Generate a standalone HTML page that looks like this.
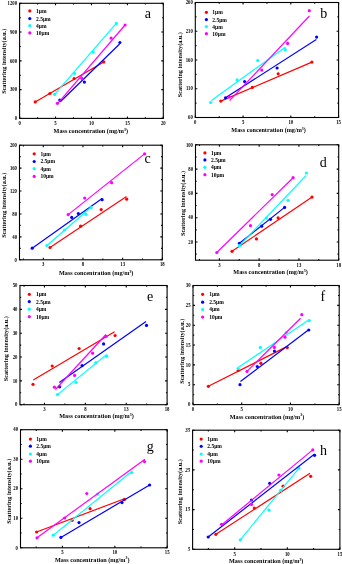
<!DOCTYPE html>
<html><head><meta charset="utf-8"><title>Scattering intensity vs mass concentration</title>
<style>
html,body{margin:0;padding:0;background:#fff;}
body{width:342px;height:564px;overflow:hidden;}
svg{display:block;filter:blur(0.3px);}
svg text{font-family:'Liberation Serif',serif;font-weight:bold;fill:#000;}
</style></head>
<body>
<svg width="342" height="564" viewBox="0 0 342 564">
<rect width="342" height="564" fill="#fff"/>
<g><line x1="35.2" y1="101.9" x2="103.7" y2="61.9" stroke="#ff0000" stroke-width="1.2"/>
<circle cx="35.2" cy="101.9" r="1.6" fill="#ff0000"/>
<circle cx="49.9" cy="93.5" r="1.6" fill="#ff0000"/>
<circle cx="74.1" cy="78.6" r="1.6" fill="#ff0000"/>
<circle cx="103.7" cy="61.9" r="1.6" fill="#ff0000"/>
<line x1="54.6" y1="94.4" x2="116.3" y2="23.4" stroke="#00ffff" stroke-width="1.2"/>
<circle cx="54.6" cy="94.4" r="1.6" fill="#00ffff"/>
<circle cx="74.4" cy="73.3" r="1.6" fill="#00ffff"/>
<circle cx="93.3" cy="51.9" r="1.6" fill="#00ffff"/>
<circle cx="116.3" cy="23.4" r="1.6" fill="#00ffff"/>
<line x1="60.3" y1="101.8" x2="119.6" y2="44" stroke="#0000ff" stroke-width="1.2"/>
<circle cx="59.8" cy="100" r="1.6" fill="#0000ff"/>
<circle cx="84.4" cy="82.1" r="1.6" fill="#0000ff"/>
<circle cx="119.9" cy="42.5" r="1.6" fill="#0000ff"/>
<line x1="57.8" y1="103.3" x2="125.1" y2="25" stroke="#ff00ff" stroke-width="1.2"/>
<circle cx="57.4" cy="103.3" r="1.6" fill="#ff00ff"/>
<circle cx="81.9" cy="78.3" r="1.6" fill="#ff00ff"/>
<circle cx="111.1" cy="38.1" r="1.6" fill="#ff00ff"/>
<circle cx="125.1" cy="25" r="1.6" fill="#ff00ff"/>
<rect x="19.6" y="3.3" width="143.7" height="115.1" fill="none" stroke="#000" stroke-width="1.1"/>
<path d="M19.6 118.4v-2.0M19.6 3.3v2.0M55.53 118.4v-2.0M55.53 3.3v2.0M91.45 118.4v-2.0M91.45 3.3v2.0M127.38 118.4v-2.0M127.38 3.3v2.0M163.3 118.4v-2.0M163.3 3.3v2.0M37.56 118.4v-1.2M37.56 3.3v1.2M73.49 118.4v-1.2M73.49 3.3v1.2M109.41 118.4v-1.2M109.41 3.3v1.2M145.34 118.4v-1.2M145.34 3.3v1.2M19.6 118.4h2.0M163.3 118.4h-2.0M19.6 89.62h2.0M163.3 89.62h-2.0M19.6 60.85h2.0M163.3 60.85h-2.0M19.6 32.07h2.0M163.3 32.07h-2.0M19.6 3.3h2.0M163.3 3.3h-2.0M19.6 104.01h1.2M163.3 104.01h-1.2M19.6 75.24h1.2M163.3 75.24h-1.2M19.6 46.46h1.2M163.3 46.46h-1.2M19.6 17.69h1.2M163.3 17.69h-1.2" stroke="#000" stroke-width="1.1" fill="none"/>
<text transform="translate(19.6 124.5) scale(0.88 1)" font-size="5.4" text-anchor="middle">0</text>
<text transform="translate(55.53 124.5) scale(0.88 1)" font-size="5.4" text-anchor="middle">5</text>
<text transform="translate(91.45 124.5) scale(0.88 1)" font-size="5.4" text-anchor="middle">10</text>
<text transform="translate(127.38 124.5) scale(0.88 1)" font-size="5.4" text-anchor="middle">15</text>
<text transform="translate(163.3 124.5) scale(0.88 1)" font-size="5.4" text-anchor="middle">20</text>
<text transform="translate(17.1 120.1) scale(0.88 1)" font-size="5.4" text-anchor="end">0</text>
<text transform="translate(17.1 91.33) scale(0.88 1)" font-size="5.4" text-anchor="end">300</text>
<text transform="translate(17.1 62.55) scale(0.88 1)" font-size="5.4" text-anchor="end">600</text>
<text transform="translate(17.1 33.77) scale(0.88 1)" font-size="5.4" text-anchor="end">900</text>
<text transform="translate(17.1 5) scale(0.88 1)" font-size="5.4" text-anchor="end">1200</text>
<circle cx="29.8" cy="10.9" r="1.6" fill="#ff0000"/>
<text x="36.1" y="12.8" font-size="5.5">1μm</text>
<circle cx="29.8" cy="18.6" r="1.6" fill="#0000ff"/>
<text x="36.1" y="20.5" font-size="5.5">2.5μm</text>
<circle cx="29.8" cy="25.7" r="1.6" fill="#00ffff"/>
<text x="36.1" y="27.6" font-size="5.5">4μm</text>
<circle cx="29.8" cy="32.9" r="1.6" fill="#ff00ff"/>
<text x="36.1" y="34.8" font-size="5.5">10μm</text>
<text x="147.8" y="17.8" font-size="14.0" style="font-weight:normal" text-anchor="middle">a</text>
<text x="90.8" y="133" font-size="6.2" text-anchor="middle">Mass concentration (mg/m<tspan font-size="3.84" dy="-2.2">3</tspan><tspan dy="2.2">)</tspan></text>
<text transform="translate(5.9 61.25) rotate(-90)" font-size="6.2" text-anchor="middle">Scattering intensity(a.u.)</text></g>
<g><line x1="211.4" y1="100.4" x2="285.5" y2="47" stroke="#00ffff" stroke-width="1.2"/>
<circle cx="210.7" cy="102.5" r="1.6" fill="#00ffff"/>
<circle cx="237.1" cy="79.9" r="1.6" fill="#00ffff"/>
<circle cx="257.7" cy="60.5" r="1.6" fill="#00ffff"/>
<circle cx="285.3" cy="49.7" r="1.6" fill="#00ffff"/>
<line x1="220.8" y1="101.1" x2="311.9" y2="62.1" stroke="#ff0000" stroke-width="1.2"/>
<circle cx="220.8" cy="101.1" r="1.6" fill="#ff0000"/>
<circle cx="252.3" cy="87.4" r="1.6" fill="#ff0000"/>
<circle cx="278.2" cy="73.8" r="1.6" fill="#ff0000"/>
<circle cx="311.9" cy="62.1" r="1.6" fill="#ff0000"/>
<line x1="225.5" y1="97.8" x2="316.3" y2="39.5" stroke="#0000ff" stroke-width="1.2"/>
<circle cx="225.5" cy="97.8" r="1.6" fill="#0000ff"/>
<circle cx="244.6" cy="81.6" r="1.6" fill="#0000ff"/>
<circle cx="277.1" cy="68" r="1.6" fill="#0000ff"/>
<circle cx="316.6" cy="37.1" r="1.6" fill="#0000ff"/>
<line x1="229.6" y1="100.6" x2="309.4" y2="16" stroke="#ff00ff" stroke-width="1.2"/>
<circle cx="229.3" cy="97" r="1.6" fill="#ff00ff"/>
<circle cx="261.8" cy="70.1" r="1.6" fill="#ff00ff"/>
<circle cx="287.6" cy="43.4" r="1.6" fill="#ff00ff"/>
<circle cx="309.3" cy="10.7" r="1.6" fill="#ff00ff"/>
<rect x="195.3" y="2.5" width="143.3" height="115" fill="none" stroke="#000" stroke-width="1.1"/>
<path d="M195.3 117.5v-2.0M195.3 2.5v2.0M243.07 117.5v-2.0M243.07 2.5v2.0M290.83 117.5v-2.0M290.83 2.5v2.0M338.6 117.5v-2.0M338.6 2.5v2.0M219.18 117.5v-1.2M219.18 2.5v1.2M266.95 117.5v-1.2M266.95 2.5v1.2M314.72 117.5v-1.2M314.72 2.5v1.2M195.3 117.5h2.0M338.6 117.5h-2.0M195.3 88.75h2.0M338.6 88.75h-2.0M195.3 60h2.0M338.6 60h-2.0M195.3 31.25h2.0M338.6 31.25h-2.0M195.3 2.5h2.0M338.6 2.5h-2.0M195.3 103.12h1.2M338.6 103.12h-1.2M195.3 74.38h1.2M338.6 74.38h-1.2M195.3 45.62h1.2M338.6 45.62h-1.2M195.3 16.88h1.2M338.6 16.88h-1.2" stroke="#000" stroke-width="1.1" fill="none"/>
<text transform="translate(195.3 124.1) scale(0.88 1)" font-size="5.4" text-anchor="middle">0</text>
<text transform="translate(243.07 124.1) scale(0.88 1)" font-size="5.4" text-anchor="middle">5</text>
<text transform="translate(290.83 124.1) scale(0.88 1)" font-size="5.4" text-anchor="middle">10</text>
<text transform="translate(338.6 124.1) scale(0.88 1)" font-size="5.4" text-anchor="middle">15</text>
<text transform="translate(192.8 119.2) scale(0.88 1)" font-size="5.4" text-anchor="end">60</text>
<text transform="translate(192.8 90.45) scale(0.88 1)" font-size="5.4" text-anchor="end">110</text>
<text transform="translate(192.8 61.7) scale(0.88 1)" font-size="5.4" text-anchor="end">160</text>
<text transform="translate(192.8 32.95) scale(0.88 1)" font-size="5.4" text-anchor="end">210</text>
<text transform="translate(192.8 4.2) scale(0.88 1)" font-size="5.4" text-anchor="end">260</text>
<circle cx="206.4" cy="12.3" r="1.6" fill="#ff0000"/>
<text x="212.3" y="14.2" font-size="5.5">1μm</text>
<circle cx="206.4" cy="19.6" r="1.6" fill="#0000ff"/>
<text x="212.3" y="21.5" font-size="5.5">2.5μm</text>
<circle cx="206.4" cy="26.6" r="1.6" fill="#00ffff"/>
<text x="212.3" y="28.5" font-size="5.5">4μm</text>
<circle cx="206.4" cy="33.7" r="1.6" fill="#ff00ff"/>
<text x="212.3" y="35.6" font-size="5.5">10μm</text>
<text x="323.7" y="17.5" font-size="14.0" style="font-weight:normal" text-anchor="middle">b</text>
<text x="268.6" y="132.3" font-size="6.2" text-anchor="middle">Mass concentration (mg/m<tspan font-size="3.84" dy="-2.2">3</tspan><tspan dy="2.2">)</tspan></text>
<text transform="translate(182 64.65) rotate(-90)" font-size="6.2" text-anchor="middle">Scattering intensity(a.u.)</text></g>
<g><line x1="32.2" y1="248.2" x2="102.1" y2="198.6" stroke="#0000ff" stroke-width="1.2"/>
<circle cx="32.2" cy="248.2" r="1.6" fill="#0000ff"/>
<circle cx="71.7" cy="217.4" r="1.6" fill="#0000ff"/>
<circle cx="78.3" cy="213.5" r="1.6" fill="#0000ff"/>
<circle cx="102.1" cy="199.7" r="1.6" fill="#0000ff"/>
<line x1="46.9" y1="245.5" x2="91.6" y2="206.8" stroke="#00ffff" stroke-width="1.2"/>
<circle cx="46.9" cy="245.5" r="1.6" fill="#00ffff"/>
<circle cx="64.5" cy="230" r="1.6" fill="#00ffff"/>
<circle cx="85.9" cy="214.3" r="1.6" fill="#00ffff"/>
<circle cx="91.2" cy="207.5" r="1.6" fill="#00ffff"/>
<line x1="50" y1="247.5" x2="126.5" y2="196.6" stroke="#ff0000" stroke-width="1.2"/>
<circle cx="50" cy="247.5" r="1.6" fill="#ff0000"/>
<circle cx="80.6" cy="226.2" r="1.6" fill="#ff0000"/>
<circle cx="101.2" cy="209.6" r="1.6" fill="#ff0000"/>
<circle cx="126.7" cy="199.2" r="1.6" fill="#ff0000"/>
<line x1="68.2" y1="214.6" x2="144.6" y2="153.9" stroke="#ff00ff" stroke-width="1.2"/>
<circle cx="68.2" cy="214.6" r="1.6" fill="#ff00ff"/>
<circle cx="84.7" cy="198.1" r="1.6" fill="#ff00ff"/>
<circle cx="111.6" cy="182.7" r="1.6" fill="#ff00ff"/>
<circle cx="144.6" cy="153.9" r="1.6" fill="#ff00ff"/>
<rect x="19.5" y="145.2" width="142.8" height="114.6" fill="none" stroke="#000" stroke-width="1.1"/>
<path d="M43.3 259.8v-2.0M43.3 145.2v2.0M82.97 259.8v-2.0M82.97 145.2v2.0M122.63 259.8v-2.0M122.63 145.2v2.0M162.3 259.8v-2.0M162.3 145.2v2.0M23.47 259.8v-1.2M23.47 145.2v1.2M63.13 259.8v-1.2M63.13 145.2v1.2M102.8 259.8v-1.2M102.8 145.2v1.2M142.47 259.8v-1.2M142.47 145.2v1.2M19.5 259.8h2.0M162.3 259.8h-2.0M19.5 236.88h2.0M162.3 236.88h-2.0M19.5 213.96h2.0M162.3 213.96h-2.0M19.5 191.04h2.0M162.3 191.04h-2.0M19.5 168.12h2.0M162.3 168.12h-2.0M19.5 145.2h2.0M162.3 145.2h-2.0M19.5 248.34h1.2M162.3 248.34h-1.2M19.5 225.42h1.2M162.3 225.42h-1.2M19.5 202.5h1.2M162.3 202.5h-1.2M19.5 179.58h1.2M162.3 179.58h-1.2M19.5 156.66h1.2M162.3 156.66h-1.2" stroke="#000" stroke-width="1.1" fill="none"/>
<text transform="translate(43.3 266.4) scale(0.88 1)" font-size="5.4" text-anchor="middle">3</text>
<text transform="translate(82.97 266.4) scale(0.88 1)" font-size="5.4" text-anchor="middle">8</text>
<text transform="translate(122.63 266.4) scale(0.88 1)" font-size="5.4" text-anchor="middle">13</text>
<text transform="translate(162.3 266.4) scale(0.88 1)" font-size="5.4" text-anchor="middle">18</text>
<text transform="translate(17 261.5) scale(0.88 1)" font-size="5.4" text-anchor="end">0</text>
<text transform="translate(17 238.58) scale(0.88 1)" font-size="5.4" text-anchor="end">40</text>
<text transform="translate(17 215.66) scale(0.88 1)" font-size="5.4" text-anchor="end">80</text>
<text transform="translate(17 192.74) scale(0.88 1)" font-size="5.4" text-anchor="end">120</text>
<text transform="translate(17 169.82) scale(0.88 1)" font-size="5.4" text-anchor="end">160</text>
<text transform="translate(17 146.9) scale(0.88 1)" font-size="5.4" text-anchor="end">200</text>
<circle cx="34.2" cy="153.8" r="1.6" fill="#ff0000"/>
<text x="40.4" y="155.7" font-size="5.5">1μm</text>
<circle cx="34.2" cy="161.5" r="1.6" fill="#0000ff"/>
<text x="40.4" y="163.4" font-size="5.5">2.5μm</text>
<circle cx="34.2" cy="168.7" r="1.6" fill="#00ffff"/>
<text x="40.4" y="170.6" font-size="5.5">4μm</text>
<circle cx="34.2" cy="176.4" r="1.6" fill="#ff00ff"/>
<text x="40.4" y="178.3" font-size="5.5">10μm</text>
<text x="147.7" y="162.8" font-size="14.0" style="font-weight:normal" text-anchor="middle">c</text>
<text x="96.2" y="275.1" font-size="6.2" text-anchor="middle">Mass concentration (mg/m<tspan font-size="3.84" dy="-2.2">3</tspan><tspan dy="2.2">)</tspan></text>
<text transform="translate(6.4 205.25) rotate(-90)" font-size="6.2" text-anchor="middle">Scattering intensity(a.u.)</text></g>
<g><line x1="216.8" y1="252.5" x2="293.1" y2="177.7" stroke="#ff00ff" stroke-width="1.2"/>
<circle cx="216.8" cy="252.5" r="1.6" fill="#ff00ff"/>
<circle cx="250.5" cy="225.7" r="1.6" fill="#ff00ff"/>
<circle cx="272.2" cy="194.7" r="1.6" fill="#ff00ff"/>
<circle cx="293.1" cy="177.7" r="1.6" fill="#ff00ff"/>
<line x1="232" y1="251.3" x2="311.8" y2="197.3" stroke="#ff0000" stroke-width="1.2"/>
<circle cx="232" cy="251.3" r="1.6" fill="#ff0000"/>
<circle cx="256.5" cy="238.9" r="1.6" fill="#ff0000"/>
<circle cx="278.1" cy="217.9" r="1.6" fill="#ff0000"/>
<circle cx="312" cy="197.1" r="1.6" fill="#ff0000"/>
<line x1="239.4" y1="243.3" x2="284.6" y2="207.4" stroke="#0000ff" stroke-width="1.2"/>
<circle cx="239.4" cy="243.3" r="1.6" fill="#0000ff"/>
<circle cx="261.7" cy="226.2" r="1.6" fill="#0000ff"/>
<circle cx="270.5" cy="219.3" r="1.6" fill="#0000ff"/>
<circle cx="284.6" cy="207.4" r="1.6" fill="#0000ff"/>
<line x1="239.4" y1="245.7" x2="306.2" y2="175.5" stroke="#00ffff" stroke-width="1.2"/>
<circle cx="239.4" cy="245.7" r="1.6" fill="#00ffff"/>
<circle cx="266.4" cy="218.1" r="1.6" fill="#00ffff"/>
<circle cx="288.1" cy="200.3" r="1.6" fill="#00ffff"/>
<circle cx="306.4" cy="173" r="1.6" fill="#00ffff"/>
<rect x="195.5" y="144.8" width="143.2" height="115.4" fill="none" stroke="#000" stroke-width="1.1"/>
<path d="M219.37 260.2v-2.0M219.37 144.8v2.0M259.14 260.2v-2.0M259.14 144.8v2.0M298.92 260.2v-2.0M298.92 144.8v2.0M338.7 260.2v-2.0M338.7 144.8v2.0M199.48 260.2v-1.2M199.48 144.8v1.2M239.26 260.2v-1.2M239.26 144.8v1.2M279.03 260.2v-1.2M279.03 144.8v1.2M318.81 260.2v-1.2M318.81 144.8v1.2M195.5 241.98h2.0M338.7 241.98h-2.0M195.5 217.68h2.0M338.7 217.68h-2.0M195.5 193.39h2.0M338.7 193.39h-2.0M195.5 169.09h2.0M338.7 169.09h-2.0M195.5 144.8h2.0M338.7 144.8h-2.0M195.5 254.13h1.2M338.7 254.13h-1.2M195.5 229.83h1.2M338.7 229.83h-1.2M195.5 205.54h1.2M338.7 205.54h-1.2M195.5 181.24h1.2M338.7 181.24h-1.2M195.5 156.95h1.2M338.7 156.95h-1.2" stroke="#000" stroke-width="1.1" fill="none"/>
<text transform="translate(219.37 266.8) scale(0.88 1)" font-size="5.4" text-anchor="middle">3</text>
<text transform="translate(259.14 266.8) scale(0.88 1)" font-size="5.4" text-anchor="middle">8</text>
<text transform="translate(298.92 266.8) scale(0.88 1)" font-size="5.4" text-anchor="middle">13</text>
<text transform="translate(338.7 266.8) scale(0.88 1)" font-size="5.4" text-anchor="middle">18</text>
<text transform="translate(193 243.68) scale(0.88 1)" font-size="5.4" text-anchor="end">20</text>
<text transform="translate(193 219.38) scale(0.88 1)" font-size="5.4" text-anchor="end">40</text>
<text transform="translate(193 195.09) scale(0.88 1)" font-size="5.4" text-anchor="end">60</text>
<text transform="translate(193 170.79) scale(0.88 1)" font-size="5.4" text-anchor="end">80</text>
<text transform="translate(193 146.5) scale(0.88 1)" font-size="5.4" text-anchor="end">100</text>
<circle cx="204.9" cy="152.9" r="1.6" fill="#ff0000"/>
<text x="211" y="154.8" font-size="5.5">1μm</text>
<circle cx="204.9" cy="159.9" r="1.6" fill="#0000ff"/>
<text x="211" y="161.8" font-size="5.5">2.5μm</text>
<circle cx="204.9" cy="167.3" r="1.6" fill="#00ffff"/>
<text x="211" y="169.2" font-size="5.5">4μm</text>
<circle cx="204.9" cy="174.7" r="1.6" fill="#ff00ff"/>
<text x="211" y="176.6" font-size="5.5">10μm</text>
<text x="323.2" y="167.4" font-size="14.0" style="font-weight:normal" text-anchor="middle">d</text>
<text x="270.55" y="274" font-size="6.2" text-anchor="middle">Mass concentration (mg/m<tspan font-size="3.84" dy="-2.2">3</tspan><tspan dy="2.2">)</tspan></text>
<text transform="translate(185.2 203.5) rotate(-90)" font-size="6.2" text-anchor="middle">Scattering intensity(a.u.)</text></g>
<g><line x1="33.3" y1="380" x2="114.6" y2="331.7" stroke="#ff0000" stroke-width="1.2"/>
<circle cx="33" cy="384.3" r="1.6" fill="#ff0000"/>
<circle cx="52.2" cy="366" r="1.6" fill="#ff0000"/>
<circle cx="79.1" cy="348.5" r="1.6" fill="#ff0000"/>
<circle cx="115.1" cy="335.5" r="1.6" fill="#ff0000"/>
<line x1="59.3" y1="382.5" x2="146" y2="321.5" stroke="#0000ff" stroke-width="1.2"/>
<circle cx="59.6" cy="386.8" r="1.6" fill="#0000ff"/>
<circle cx="82.1" cy="365.6" r="1.6" fill="#0000ff"/>
<circle cx="103.6" cy="343.9" r="1.6" fill="#0000ff"/>
<circle cx="146.5" cy="325.4" r="1.6" fill="#0000ff"/>
<line x1="57.5" y1="394.6" x2="106.7" y2="354.5" stroke="#00ffff" stroke-width="1.2"/>
<circle cx="57.5" cy="394.6" r="1.6" fill="#00ffff"/>
<circle cx="76" cy="382.3" r="1.6" fill="#00ffff"/>
<circle cx="95.8" cy="362.7" r="1.6" fill="#00ffff"/>
<circle cx="106.7" cy="356.3" r="1.6" fill="#00ffff"/>
<line x1="55.4" y1="389.5" x2="106" y2="334.5" stroke="#ff00ff" stroke-width="1.2"/>
<circle cx="54.4" cy="387.2" r="1.6" fill="#ff00ff"/>
<circle cx="74.6" cy="375.4" r="1.6" fill="#ff00ff"/>
<circle cx="92.6" cy="353.2" r="1.6" fill="#ff00ff"/>
<circle cx="106" cy="336.4" r="1.6" fill="#ff00ff"/>
<rect x="19.95" y="285.5" width="147.15" height="119.2" fill="none" stroke="#000" stroke-width="1.1"/>
<path d="M44.48 404.7v-2.0M44.48 285.5v2.0M85.35 404.7v-2.0M85.35 285.5v2.0M126.23 404.7v-2.0M126.23 285.5v2.0M167.1 404.7v-2.0M167.1 285.5v2.0M24.04 404.7v-1.2M24.04 285.5v1.2M64.91 404.7v-1.2M64.91 285.5v1.2M105.79 404.7v-1.2M105.79 285.5v1.2M146.66 404.7v-1.2M146.66 285.5v1.2M19.95 404.7h2.0M167.1 404.7h-2.0M19.95 380.86h2.0M167.1 380.86h-2.0M19.95 357.02h2.0M167.1 357.02h-2.0M19.95 333.18h2.0M167.1 333.18h-2.0M19.95 309.34h2.0M167.1 309.34h-2.0M19.95 285.5h2.0M167.1 285.5h-2.0M19.95 392.78h1.2M167.1 392.78h-1.2M19.95 368.94h1.2M167.1 368.94h-1.2M19.95 345.1h1.2M167.1 345.1h-1.2M19.95 321.26h1.2M167.1 321.26h-1.2M19.95 297.42h1.2M167.1 297.42h-1.2" stroke="#000" stroke-width="1.1" fill="none"/>
<text transform="translate(44.48 411.3) scale(0.88 1)" font-size="5.4" text-anchor="middle">3</text>
<text transform="translate(85.35 411.3) scale(0.88 1)" font-size="5.4" text-anchor="middle">8</text>
<text transform="translate(126.23 411.3) scale(0.88 1)" font-size="5.4" text-anchor="middle">13</text>
<text transform="translate(167.1 411.3) scale(0.88 1)" font-size="5.4" text-anchor="middle">18</text>
<text transform="translate(17.45 406.4) scale(0.88 1)" font-size="5.4" text-anchor="end">0</text>
<text transform="translate(17.45 382.56) scale(0.88 1)" font-size="5.4" text-anchor="end">10</text>
<text transform="translate(17.45 358.72) scale(0.88 1)" font-size="5.4" text-anchor="end">20</text>
<text transform="translate(17.45 334.88) scale(0.88 1)" font-size="5.4" text-anchor="end">30</text>
<text transform="translate(17.45 311.04) scale(0.88 1)" font-size="5.4" text-anchor="end">40</text>
<text transform="translate(17.45 287.2) scale(0.88 1)" font-size="5.4" text-anchor="end">50</text>
<circle cx="29.3" cy="294.3" r="1.6" fill="#ff0000"/>
<text x="36" y="296.2" font-size="5.5">1μm</text>
<circle cx="29.3" cy="301.6" r="1.6" fill="#0000ff"/>
<text x="36" y="303.5" font-size="5.5">2.5μm</text>
<circle cx="29.3" cy="309.2" r="1.6" fill="#00ffff"/>
<text x="36" y="311.1" font-size="5.5">4μm</text>
<circle cx="29.3" cy="316.7" r="1.6" fill="#ff00ff"/>
<text x="36" y="318.6" font-size="5.5">10μm</text>
<text x="150" y="300.8" font-size="14.0" style="font-weight:normal" text-anchor="middle">e</text>
<text x="96.5" y="418" font-size="6.2" text-anchor="middle">Mass concentration (mg/m<tspan font-size="3.84" dy="-2.2">3</tspan><tspan dy="2.2">)</tspan></text>
<text transform="translate(7.8 348.65) rotate(-90)" font-size="6.2" text-anchor="middle">Scattering intensity(a.u.)</text></g>
<g><line x1="208.4" y1="386.3" x2="287.3" y2="346.4" stroke="#ff0000" stroke-width="1.2"/>
<circle cx="208.4" cy="386.3" r="1.6" fill="#ff0000"/>
<circle cx="238.2" cy="370.5" r="1.6" fill="#ff0000"/>
<circle cx="260.9" cy="363.3" r="1.6" fill="#ff0000"/>
<circle cx="287.3" cy="347.6" r="1.6" fill="#ff0000"/>
<line x1="240.4" y1="381.6" x2="309" y2="329.4" stroke="#0000ff" stroke-width="1.2"/>
<circle cx="240" cy="384.7" r="1.6" fill="#0000ff"/>
<circle cx="257.3" cy="366.5" r="1.6" fill="#0000ff"/>
<circle cx="274.4" cy="351.1" r="1.6" fill="#0000ff"/>
<circle cx="308.8" cy="330" r="1.6" fill="#0000ff"/>
<line x1="238.2" y1="367.5" x2="309.5" y2="319.4" stroke="#00ffff" stroke-width="1.2"/>
<circle cx="238.2" cy="368.5" r="1.6" fill="#00ffff"/>
<circle cx="260.4" cy="347.4" r="1.6" fill="#00ffff"/>
<circle cx="286.4" cy="332.6" r="1.6" fill="#00ffff"/>
<circle cx="309.2" cy="320.5" r="1.6" fill="#00ffff"/>
<line x1="247" y1="371.4" x2="300.6" y2="318.3" stroke="#ff00ff" stroke-width="1.2"/>
<circle cx="247" cy="371.4" r="1.6" fill="#ff00ff"/>
<circle cx="274.4" cy="347.4" r="1.6" fill="#ff00ff"/>
<circle cx="285" cy="337.2" r="1.6" fill="#ff00ff"/>
<circle cx="301.8" cy="314.7" r="1.6" fill="#ff00ff"/>
<rect x="193" y="285.5" width="146.2" height="119.1" fill="none" stroke="#000" stroke-width="1.1"/>
<path d="M193 404.6v-2.0M193 285.5v2.0M241.73 404.6v-2.0M241.73 285.5v2.0M290.47 404.6v-2.0M290.47 285.5v2.0M339.2 404.6v-2.0M339.2 285.5v2.0M217.37 404.6v-1.2M217.37 285.5v1.2M266.1 404.6v-1.2M266.1 285.5v1.2M314.83 404.6v-1.2M314.83 285.5v1.2M193 404.6h2.0M339.2 404.6h-2.0M193 384.75h2.0M339.2 384.75h-2.0M193 364.9h2.0M339.2 364.9h-2.0M193 345.05h2.0M339.2 345.05h-2.0M193 325.2h2.0M339.2 325.2h-2.0M193 305.35h2.0M339.2 305.35h-2.0M193 285.5h2.0M339.2 285.5h-2.0M193 394.68h1.2M339.2 394.68h-1.2M193 374.82h1.2M339.2 374.82h-1.2M193 354.98h1.2M339.2 354.98h-1.2M193 335.12h1.2M339.2 335.12h-1.2M193 315.27h1.2M339.2 315.27h-1.2M193 295.43h1.2M339.2 295.43h-1.2" stroke="#000" stroke-width="1.1" fill="none"/>
<text transform="translate(193 411.2) scale(0.88 1)" font-size="5.4" text-anchor="middle">0</text>
<text transform="translate(241.73 411.2) scale(0.88 1)" font-size="5.4" text-anchor="middle">5</text>
<text transform="translate(290.47 411.2) scale(0.88 1)" font-size="5.4" text-anchor="middle">10</text>
<text transform="translate(339.2 411.2) scale(0.88 1)" font-size="5.4" text-anchor="middle">15</text>
<text transform="translate(190.5 406.3) scale(0.88 1)" font-size="5.4" text-anchor="end">0</text>
<text transform="translate(190.5 386.45) scale(0.88 1)" font-size="5.4" text-anchor="end">5</text>
<text transform="translate(190.5 366.6) scale(0.88 1)" font-size="5.4" text-anchor="end">10</text>
<text transform="translate(190.5 346.75) scale(0.88 1)" font-size="5.4" text-anchor="end">15</text>
<text transform="translate(190.5 326.9) scale(0.88 1)" font-size="5.4" text-anchor="end">20</text>
<text transform="translate(190.5 307.05) scale(0.88 1)" font-size="5.4" text-anchor="end">25</text>
<text transform="translate(190.5 287.2) scale(0.88 1)" font-size="5.4" text-anchor="end">30</text>
<circle cx="202.6" cy="294.3" r="1.6" fill="#ff0000"/>
<text x="209.2" y="296.2" font-size="5.5">1μm</text>
<circle cx="202.6" cy="302.2" r="1.6" fill="#0000ff"/>
<text x="209.2" y="304.1" font-size="5.5">2.5μm</text>
<circle cx="202.6" cy="309.5" r="1.6" fill="#00ffff"/>
<text x="209.2" y="311.4" font-size="5.5">4μm</text>
<circle cx="202.6" cy="317.1" r="1.6" fill="#ff00ff"/>
<text x="209.2" y="319" font-size="5.5">10μm</text>
<text x="322.8" y="301.2" font-size="14.0" style="font-weight:normal" text-anchor="middle">f</text>
<text x="267" y="418.6" font-size="6.2" text-anchor="middle">Mass concentration (mg/m<tspan font-size="3.84" dy="-2.2">3</tspan><tspan dy="2.2">)</tspan></text>
<text transform="translate(183.6 351.25) rotate(-90)" font-size="6.2" text-anchor="middle">Scattering intensity(a.u.)</text></g>
<g><line x1="36.6" y1="532" x2="124.5" y2="498.7" stroke="#ff0000" stroke-width="1.2"/>
<circle cx="36.6" cy="532" r="1.6" fill="#ff0000"/>
<circle cx="72.2" cy="520.3" r="1.6" fill="#ff0000"/>
<circle cx="90.1" cy="508.7" r="1.6" fill="#ff0000"/>
<circle cx="124.5" cy="499.4" r="1.6" fill="#ff0000"/>
<line x1="60.9" y1="537.4" x2="149.6" y2="485" stroke="#0000ff" stroke-width="1.2"/>
<circle cx="60.9" cy="537.4" r="1.6" fill="#0000ff"/>
<circle cx="79" cy="522.6" r="1.6" fill="#0000ff"/>
<circle cx="122" cy="502.6" r="1.6" fill="#0000ff"/>
<circle cx="149.6" cy="485" r="1.6" fill="#0000ff"/>
<line x1="53.3" y1="535.2" x2="131.6" y2="471.5" stroke="#00ffff" stroke-width="1.2"/>
<circle cx="53.3" cy="535.2" r="1.6" fill="#00ffff"/>
<circle cx="97.5" cy="494.2" r="1.6" fill="#00ffff"/>
<circle cx="131.6" cy="472.6" r="1.6" fill="#00ffff"/>
<line x1="37" y1="537.8" x2="145" y2="459.2" stroke="#ff00ff" stroke-width="1.2"/>
<circle cx="37" cy="537.8" r="1.6" fill="#ff00ff"/>
<circle cx="64.6" cy="518" r="1.6" fill="#ff00ff"/>
<circle cx="86.8" cy="493.5" r="1.6" fill="#ff00ff"/>
<circle cx="144.5" cy="461.6" r="1.6" fill="#ff00ff"/>
<rect x="20.5" y="429.7" width="146.7" height="118.1" fill="none" stroke="#000" stroke-width="1.1"/>
<path d="M62.41 547.8v-2.0M62.41 429.7v2.0M114.81 547.8v-2.0M114.81 429.7v2.0M167.2 547.8v-2.0M167.2 429.7v2.0M36.22 547.8v-1.2M36.22 429.7v1.2M88.61 547.8v-1.2M88.61 429.7v1.2M141 547.8v-1.2M141 429.7v1.2M20.5 547.8h2.0M167.2 547.8h-2.0M20.5 518.27h2.0M167.2 518.27h-2.0M20.5 488.75h2.0M167.2 488.75h-2.0M20.5 459.22h2.0M167.2 459.22h-2.0M20.5 429.7h2.0M167.2 429.7h-2.0M20.5 533.04h1.2M167.2 533.04h-1.2M20.5 503.51h1.2M167.2 503.51h-1.2M20.5 473.99h1.2M167.2 473.99h-1.2M20.5 444.46h1.2M167.2 444.46h-1.2" stroke="#000" stroke-width="1.1" fill="none"/>
<text transform="translate(62.41 554.4) scale(0.88 1)" font-size="5.4" text-anchor="middle">5</text>
<text transform="translate(114.81 554.4) scale(0.88 1)" font-size="5.4" text-anchor="middle">10</text>
<text transform="translate(167.2 554.4) scale(0.88 1)" font-size="5.4" text-anchor="middle">15</text>
<text transform="translate(18 549.5) scale(0.88 1)" font-size="5.4" text-anchor="end">0</text>
<text transform="translate(18 519.98) scale(0.88 1)" font-size="5.4" text-anchor="end">10</text>
<text transform="translate(18 490.45) scale(0.88 1)" font-size="5.4" text-anchor="end">20</text>
<text transform="translate(18 460.92) scale(0.88 1)" font-size="5.4" text-anchor="end">30</text>
<text transform="translate(18 431.4) scale(0.88 1)" font-size="5.4" text-anchor="end">40</text>
<circle cx="30.4" cy="439.1" r="1.6" fill="#ff0000"/>
<text x="36.3" y="441" font-size="5.5">1μm</text>
<circle cx="30.4" cy="446.2" r="1.6" fill="#0000ff"/>
<text x="36.3" y="448.1" font-size="5.5">2.5μm</text>
<circle cx="30.4" cy="454.1" r="1.6" fill="#00ffff"/>
<text x="36.3" y="456" font-size="5.5">4μm</text>
<circle cx="30.4" cy="461.2" r="1.6" fill="#ff00ff"/>
<text x="36.3" y="463.1" font-size="5.5">10μm</text>
<text x="150.2" y="451" font-size="14.0" style="font-weight:normal" text-anchor="middle">g</text>
<text x="92.25" y="561.5" font-size="6.2" text-anchor="middle">Mass concentration (mg/m<tspan font-size="3.84" dy="-2.2">3</tspan><tspan dy="2.2">)</tspan></text>
<text transform="translate(10.6 491.25) rotate(-90)" font-size="6.2" text-anchor="middle">Scattering intensity(a.u.)</text></g>
<g><line x1="215.9" y1="534.3" x2="310" y2="473.3" stroke="#ff0000" stroke-width="1.2"/>
<circle cx="215.9" cy="534.3" r="1.6" fill="#ff0000"/>
<circle cx="254.3" cy="508.1" r="1.6" fill="#ff0000"/>
<circle cx="283.1" cy="486.2" r="1.6" fill="#ff0000"/>
<circle cx="310.7" cy="476.3" r="1.6" fill="#ff0000"/>
<line x1="240.3" y1="539.8" x2="299" y2="468.1" stroke="#00ffff" stroke-width="1.2"/>
<circle cx="240.3" cy="539.8" r="1.6" fill="#00ffff"/>
<circle cx="269" cy="510.2" r="1.6" fill="#00ffff"/>
<circle cx="280.7" cy="490.4" r="1.6" fill="#00ffff"/>
<circle cx="299" cy="468.1" r="1.6" fill="#00ffff"/>
<line x1="208.2" y1="537" x2="314.6" y2="454" stroke="#0000ff" stroke-width="1.2"/>
<circle cx="208.2" cy="537" r="1.6" fill="#0000ff"/>
<circle cx="251.5" cy="500" r="1.6" fill="#0000ff"/>
<circle cx="269.7" cy="483.3" r="1.6" fill="#0000ff"/>
<circle cx="314.6" cy="455.3" r="1.6" fill="#0000ff"/>
<line x1="221.5" y1="525" x2="312.8" y2="449.9" stroke="#ff00ff" stroke-width="1.2"/>
<circle cx="221.5" cy="524.3" r="1.6" fill="#ff00ff"/>
<circle cx="251.5" cy="504.4" r="1.6" fill="#ff00ff"/>
<circle cx="278.9" cy="475" r="1.6" fill="#ff00ff"/>
<circle cx="312.8" cy="449.9" r="1.6" fill="#ff00ff"/>
<rect x="192.6" y="430.2" width="147.3" height="119.1" fill="none" stroke="#000" stroke-width="1.1"/>
<path d="M234.69 549.3v-2.0M234.69 430.2v2.0M287.29 549.3v-2.0M287.29 430.2v2.0M339.9 549.3v-2.0M339.9 430.2v2.0M208.38 549.3v-1.2M208.38 430.2v1.2M260.99 549.3v-1.2M260.99 430.2v1.2M313.6 549.3v-1.2M313.6 430.2v1.2M192.6 549.3h2.0M339.9 549.3h-2.0M192.6 509.6h2.0M339.9 509.6h-2.0M192.6 469.9h2.0M339.9 469.9h-2.0M192.6 430.2h2.0M339.9 430.2h-2.0M192.6 529.45h1.2M339.9 529.45h-1.2M192.6 489.75h1.2M339.9 489.75h-1.2M192.6 450.05h1.2M339.9 450.05h-1.2" stroke="#000" stroke-width="1.1" fill="none"/>
<text transform="translate(234.69 555.9) scale(0.88 1)" font-size="5.4" text-anchor="middle">5</text>
<text transform="translate(287.29 555.9) scale(0.88 1)" font-size="5.4" text-anchor="middle">10</text>
<text transform="translate(339.9 555.9) scale(0.88 1)" font-size="5.4" text-anchor="middle">15</text>
<text transform="translate(190.1 551) scale(0.88 1)" font-size="5.6" text-anchor="end" style="font-style:italic">5</text>
<text transform="translate(190.1 511.3) scale(0.88 1)" font-size="5.6" text-anchor="end" style="font-style:italic">15</text>
<text transform="translate(190.1 471.6) scale(0.88 1)" font-size="5.6" text-anchor="end" style="font-style:italic">25</text>
<text transform="translate(190.1 431.9) scale(0.88 1)" font-size="5.6" text-anchor="end" style="font-style:italic">35</text>
<circle cx="201.2" cy="439.1" r="1.6" fill="#ff0000"/>
<text x="207.3" y="441" font-size="5.5">1μm</text>
<circle cx="201.2" cy="446.3" r="1.6" fill="#0000ff"/>
<text x="207.3" y="448.2" font-size="5.5">2.5μm</text>
<circle cx="201.2" cy="454.1" r="1.6" fill="#00ffff"/>
<text x="207.3" y="456" font-size="5.5">4μm</text>
<circle cx="201.2" cy="461.2" r="1.6" fill="#ff00ff"/>
<text x="207.3" y="463.1" font-size="5.5">10μm</text>
<text x="323.4" y="454.6" font-size="14.0" style="font-weight:normal" text-anchor="middle">h</text>
<text x="266.15" y="563" font-size="6.2" text-anchor="middle">Mass concentration (mg/m<tspan font-size="3.84" dy="-2.2">3</tspan><tspan dy="2.2">)</tspan></text>
<text transform="translate(181.6 491.7) rotate(-90)" font-size="6.2" text-anchor="middle">Scattering intensity(a.u.)</text></g>
</svg>
</body></html>
